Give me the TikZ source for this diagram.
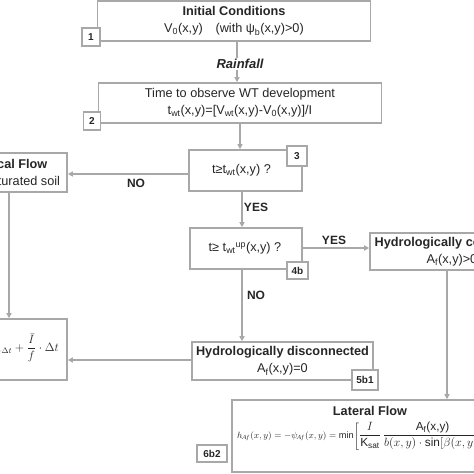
\documentclass[tikz,border=0pt]{standalone}
\usepackage{amsmath}
\usepackage{fontspec}
\setmainfont{Liberation Sans}
\usetikzlibrary{arrows.meta,calc}
\definecolor{bgray}{HTML}{A8A8A8}
\definecolor{txt}{HTML}{262626}
\newcommand{\bigfracs}{\mbox{\fontsize{11.8}{14}\selectfont$\dfrac{I}{\mbox{K\textsubscript{sat}}}\,\dfrac{\mbox{A\textsubscript{f}(x,y)}}{b(x,y)\cdot\sin[\beta(x,y)]}$}}
\begin{document}
\begin{tikzpicture}[x=1pt,y=-1pt,
  box/.style={draw=bgray,line width=1.6pt,fill=white,align=center,inner sep=0pt,text=txt,font=\fontsize{12.7}{17}\selectfont},
  tag/.style={draw=bgray,line width=1.3pt,fill=white,inner sep=0pt,text=txt,font=\fontsize{10}{12}\selectfont\bfseries},
  conn/.style={draw=bgray,line width=1.3pt,-{Triangle[width=5pt,length=5pt]}},
  lab/.style={text=txt,font=\fontsize{12}{14}\selectfont\bfseries,inner sep=1pt},
  plain/.style={text=txt,inner sep=0pt}]
\useasboundingbox (0,0) rectangle (474,474);
\clip (0,0) rectangle (474,474);

% boxes
\node[box,minimum width=273pt,minimum height=40pt] (b1) at (234,21)
  {\textbf{Initial Conditions}\\V\textsubscript{0}(x,y)\quad (with ψ\textsubscript{b}(x,y)>0)};
\node[box,minimum width=283pt,minimum height=40pt] (b2) at (240,103)
  {Time to observe WT development\\t\textsubscript{wt}(x,y)=[V\textsubscript{wt}(x,y)-V\textsubscript{0}(x,y)]/I};
\node[box,minimum width=113pt,minimum height=41pt] (b3) at (245.5,170.5)
  {t≥t\textsubscript{wt}(x,y) ?\hspace*{8pt}};
\node[box,minimum width=112pt,minimum height=41pt] (b4) at (246,248.5)
  {t≥ t\textsubscript{wt}\textsuperscript{up}(x,y) ?\hspace*{2pt}};
\node[box,minimum width=117pt,minimum height=39pt] (vf) at (8.5,172.5)
  {\textbf{Vertical Flow}\\in unsaturated soil};
\node[box,minimum width=177pt,minimum height=61pt] (fb) at (-21.5,349.5) {};
\node[plain,anchor=east,font=\fontsize{12}{14}\selectfont] (fbt) at (59,348)
  {$\displaystyle h_t=h_{t-\Delta t}+\frac{\bar{I}}{f}\cdot\Delta t$};
\node[box,minimum width=164pt,minimum height=37pt] (hc) at (452,251.5)
  {\textbf{Hydrologically connected}\\A\textsubscript{f}(x,y)>0};
\node[box,minimum width=181pt,minimum height=38pt] (hd) at (282.5,361)
  {\textbf{Hydrologically disconnected}\\A\textsubscript{f}(x,y)=0};
\node[box,minimum width=276pt,minimum height=72pt] (lf) at (370,436) {};
\node[plain,font=\fontsize{12.7}{15}\selectfont\bfseries] (lft) at (370,411) {Lateral Flow};
\node[plain,anchor=west,font=\fontsize{9.2}{11}\selectfont] (lff) at (237,436)
  {$h_{\!A\!f}(x,y)=-\psi_{\!A\!f}(x,y)=\min\!\left[\bigfracs\right]$};

% connectors
\draw[conn] (b1.south -| 237,0) -- (b2.north -| 237,0);
\node[fill=white,inner sep=1pt,text=txt,font=\fontsize{13}{15}\selectfont\bfseries\itshape] (rain) at (240,64) {Rainfall};
\draw[conn] (b2.south -| 240,0) -- (b3.north -| 240,0);
\draw[conn] (b3.south -| 242,0) -- (b4.north -| 242,0);
\draw[conn] (b3.west |- 0,174) -- (vf.east |- 0,174);
\draw[conn] (b4.east |- 0,248) -- (hc.west |- 0,248);
\draw[conn] (b4.south -| 242,0) -- (hd.north -| 242,0);
\draw[conn] (hc.south -| 447,0) -- (lf.north -| 447,0);
\draw[conn] (hd.west |- 0,360) -- (fb.east |- 0,360);
\draw[conn] (vf.south -| 9,0) -- (fb.north -| 9,0);

% labels
\node[lab] (no1) at (136,183) {NO};
\node[lab] (yes1) at (256,207) {YES};
\node[lab] (yes2) at (334,240) {YES};
\node[lab] (no2) at (256,295) {NO};

% tags
\node[tag,minimum width=18pt,minimum height=18pt] (t1) at (91,37) {1};
\node[tag,minimum width=17pt,minimum height=18pt] (t2) at (92,121) {2};
\node[tag,minimum width=20pt,minimum height=20pt] (t3) at (297,156) {3};
\node[tag,minimum width=21pt,minimum height=17pt] (t4) at (297.5,270.5) {4b};
\node[tag,minimum width=26pt,minimum height=20pt] (t5) at (365,380) {5b1};
\node[tag,minimum width=30pt,minimum height=17pt] (t6) at (212,453.5) {6b2};
\end{tikzpicture}
\end{document}
